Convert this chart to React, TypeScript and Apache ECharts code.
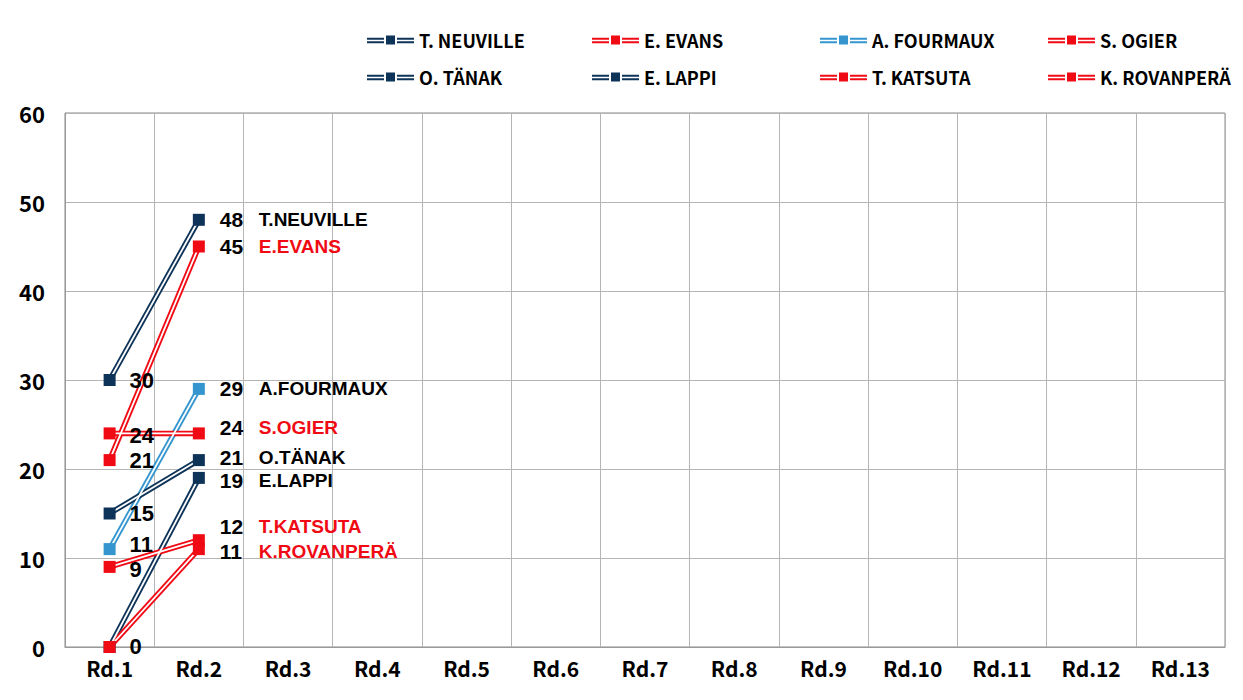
import * as echarts from "echarts";
import { useEffect, useRef } from "react";

const rounds = ["Rd.1", "Rd.2", "Rd.3", "Rd.4", "Rd.5", "Rd.6", "Rd.7", "Rd.8", "Rd.9", "Rd.10", "Rd.11", "Rd.12", "Rd.13"];
const drivers = ["T. NEUVILLE", "E. EVANS", "A. FOURMAUX", "S. OGIER", "O. TÄNAK", "E. LAPPI", "T. KATSUTA", "K. ROVANPERÄ"];
const shortNames = ["T.NEUVILLE", "E.EVANS", "A.FOURMAUX", "S.OGIER", "O.TÄNAK", "E.LAPPI", "T.KATSUTA", "K.ROVANPERÄ"];
const rd1Points = [30, 21, 11, 24, 15, 0, 9, 0];
const rd2Points = [48, 45, 29, 24, 21, 19, 12, 11];

const NAVY = "#0e3358";
const RED = "#f00a14";
const BLUE = "#3596cf";
const colors = [NAVY, RED, BLUE, RED, NAVY, NAVY, RED, RED];
const nameColors = ["#000", RED, "#000", RED, "#000", "#000", RED, RED];
// label placement tweaks (px)
const rd1Shown = [true, true, true, true, true, false, true, true];
const rd1Dy = [0, 0, -5, 2, 0, 0, 3, -1];
const rd2Dy = [0, 0, 0, -6, -3, 3, -14, 2];

const FONT = "'Noto Sans CJK JP', 'Noto Sans', sans-serif";
const SANS = "'Liberation Sans', Arial, sans-serif";
const ICON =
  "path://M0,2.8h17v2h-17z M0,6.2h17v2h-17z M19,0.5h9v9h-9z M30,2.8h17v2h-17z M30,6.2h17v2h-17z";

const legendCols = [
  { left: 362, names: [drivers[0], drivers[4]] },
  { left: 587, names: [drivers[1], drivers[5]] },
  { left: 815, names: [drivers[2], drivers[6]] },
  { left: 1043, names: [drivers[3], drivers[7]] },
];

const App = () => {
  const chartRef = useRef<HTMLDivElement>(null);

  useEffect(() => {
    if (!chartRef.current) return;
    const chart = echarts.init(chartRef.current, null, { renderer: "svg" });

    const series: any[] = [];
    drivers.forEach((name, i) => {
      const pts = [rd1Points[i], rd2Points[i]];
      series.push({
        type: "line",
        name,
        data: pts,
        symbol: "none",
        z: 2,
        itemStyle: { color: colors[i] },
        lineStyle: { color: colors[i], width: 5.5 },
      });
      series.push({
        type: "line",
        name: name + "_inner",
        data: pts,
        symbol: "none",
        silent: true,
        z: 3,
        lineStyle: { color: "#fff", width: 1.8 },
      });
      series.push({
        type: "scatter",
        name,
        z: 4,
        symbol: "rect",
        symbolSize: 12,
        itemStyle: { color: colors[i], opacity: 1 },
        data: [
          {
            value: [rounds[0], rd1Points[i]],
            label: {
              show: rd1Shown[i],
              position: "right",
              distance: 14,
              offset: [0, rd1Dy[i]],
              formatter: String(rd1Points[i]),
              fontSize: 22,
              fontWeight: "bold",
              fontFamily: SANS,
              color: "#000",
            },
          },
          {
            value: [rounds[1], rd2Points[i]],
            label: {
              show: true,
              position: "right",
              distance: 15,
              offset: [0, rd2Dy[i]],
              formatter: `{v|${rd2Points[i]}}{n|${shortNames[i]}}`,
              rich: {
                v: { fontSize: 21, fontWeight: "bold", fontFamily: SANS, color: "#000", width: 39 },
                n: { fontSize: 19, fontWeight: "bold", fontFamily: SANS, color: nameColors[i] },
              },
            },
          },
        ],
      });
    });

    const option: any = {
      animation: false,
      backgroundColor: "#fff",
      legend: legendCols.map((c) => ({
        orient: "vertical",
        left: c.left,
        top: 25,
        itemWidth: 47,
        itemHeight: 10,
        itemGap: 17,
        icon: ICON,
        selectedMode: false,
        data: c.names,
        textStyle: { fontSize: 18, fontWeight: "bold", fontFamily: FONT, color: "#000", lineHeight: 20 },
      })),
      grid: {
        left: 65,
        right: 18,
        top: 113,
        bottom: 53,
        show: true,
        borderColor: "#888",
        borderWidth: 1,
      },
      xAxis: {
        type: "category",
        data: rounds,
        boundaryGap: true,
        axisTick: { show: false },
        axisLine: { lineStyle: { color: "#999" } },
        splitLine: { show: true, lineStyle: { color: "#b5b5b5" } },
        axisLabel: { fontSize: 21, fontWeight: "bold", fontFamily: FONT, color: "#000", margin: 10 },
      },
      yAxis: {
        type: "value",
        min: 0,
        max: 60,
        interval: 10,
        axisLine: { show: true, lineStyle: { color: "#999" } },
        axisTick: { show: false },
        splitLine: { show: true, lineStyle: { color: "#b5b5b5" } },
        axisLabel: { fontSize: 22, fontWeight: "bold", fontFamily: FONT, color: "#000", margin: 20 },
      },
      series,
    };

    chart.setOption(option);
    return () => {
      chart.dispose();
    };
  }, []);

  return (
    <div
      ref={chartRef}
      style={{ position: "fixed", left: 0, top: 0, width: "1243px", height: "700px" }}
    ></div>
  );
};

export default App;
